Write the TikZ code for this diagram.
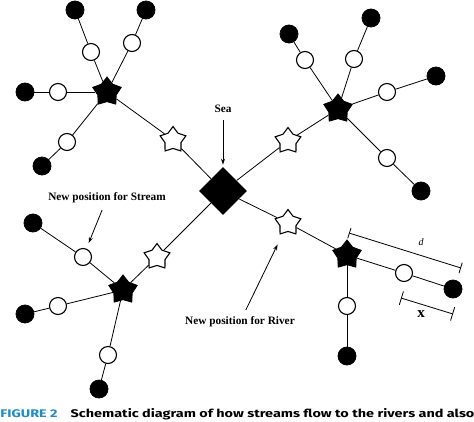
\documentclass[tikz,border=0pt]{standalone}
\usepackage{fontspec}
\usepackage{graphicx}
\setmainfont{Liberation Serif}
\newfontfamily\capfont{Fira Sans}
\usetikzlibrary{shapes.geometric,arrows.meta}
\definecolor{capblue}{RGB}{30,140,200}
\begin{document}
\begin{tikzpicture}[x=1pt,y=-1pt,line width=0.8pt,
	full/.style={circle,fill=black,draw=black,inner sep=0pt,minimum size=18pt},
	empty/.style={circle,fill=white,draw=black,line width=1.1pt,inner sep=0pt,minimum size=17pt},
	bstar/.style={star,star points=5,star point ratio=1.55,fill=black,draw=black,inner sep=0pt,minimum size=30pt},
	wstar/.style={star,star points=5,star point ratio=1.6,fill=white,draw=black,line width=1.1pt,inner sep=0pt,minimum size=27pt},
	lbl/.style={font=\bfseries\fontsize{11.3}{13}\selectfont,inner sep=1pt},
	pointer/.style={-{Stealth[length=6pt,width=4pt]},line width=0.8pt}]
	    \clip (0,0) rectangle (474,421);
	    \fill[white] (0,0) rectangle (474,421);
	    % sea and the four rivers
	    \node[diamond,fill=black,inner sep=0pt,minimum size=48pt] (sea) at (223,191) {};
	    \node[bstar] (b1) at (107,92) {};
	    \node[bstar] (b2) at (338,109) {};
	    \node[bstar] (b3) at (123,290) {};
	    \node[bstar] (b4) at (347,255) {};
	    \node[wstar] (w1) at (173,140) {};
	    \node[wstar] (w2) at (288,141) {};
	    \node[wstar] (w3) at (157,257) {};
	    \node[wstar] (w4) at (288,223) {};
	    \draw (sea) -- (w1) -- (b1);
	    \draw (sea) -- (w2) -- (b2);
	    \draw (sea) -- (w3) -- (b3);
	    \draw (sea) -- (w4) -- (b4);
	    % streams of river 1
	    \node[empty] (o11) at (91,52) {};  \node[full] (f11) at (75,10) {};
	    \node[empty] (o12) at (132,43) {}; \node[full] (f12) at (146,10) {};
	    \node[empty] (o13) at (58,92) {};  \node[full] (f13) at (25,92) {};
	    \node[empty] (o14) at (67,142) {}; \node[full] (f14) at (42,166) {};
	    \draw (b1) -- (o11) -- (f11);
	    \draw (b1) -- (o12) -- (f12);
	    \draw (b1) -- (o13) -- (f13);
	    \draw (b1) -- (o14) -- (f14);
	    % streams of river 2
	    \node[empty] (o21) at (305,60) {};  \node[full] (f21) at (289,34) {};
	    \node[empty] (o22) at (354,59) {};  \node[full] (f22) at (371,18) {};
	    \node[empty] (o23) at (387,92) {};  \node[full] (f23) at (436,76) {};
	    \node[empty] (o24) at (387,158) {}; \node[full] (f24) at (421,191) {};
	    \draw (b2) -- (o21) -- (f21);
	    \draw (b2) -- (o22) -- (f22);
	    \draw (b2) -- (o23) -- (f23);
	    \draw (b2) -- (o24) -- (f24);
	    % streams of river 3
	    \node[empty] (o31) at (83,257) {};  \node[full] (f31) at (33,223) {};
	    \node[empty] (o32) at (58,306) {};  \node[full] (f32) at (25,314) {};
	    \node[empty] (o33) at (108,355) {}; \node[full] (f33) at (99,389) {};
	    \draw (b3) -- (o31) -- (f31);
	    \draw (b3) -- (o32) -- (f32);
	    \draw (b3) -- (o33) -- (f33);
	    % streams of river 4
	    \node[empty] (o41) at (404,273) {}; \node[full] (f41) at (453,289) {};
	    \node[empty] (o42) at (347,306) {}; \node[full] (f42) at (347,356) {};
	    \draw (b4) -- (o41) -- (f41);
	    \draw (b4) -- (o42) -- (f42);
	    % labels
	    \node[lbl] (sealbl) at (223,109) {Sea};
	    \node[lbl] (streamlbl) at (107,198) {New position for Stream};
	    \node[lbl] (riverlbl) at (240,322) {New position for River};
	    \draw[pointer,shorten <=6pt,shorten >=2pt] (sealbl) -- (sea);
	    \draw[pointer,shorten <=6pt,shorten >=6pt] (streamlbl) -- (o31);
	    \draw[pointer,shorten <=6pt,shorten >=12pt] (riverlbl) -- (w4);
	    % distances
	    \coordinate (d1) at (349,233);
	    \coordinate (d2) at (461,268);
	    \coordinate (x1) at (401,298);
	    \coordinate (x2) at (453,314);
	    \draw[{Bar[width=11pt]}-{Bar[width=11pt]}] (d1) -- (d2);
	    \draw[{Bar[width=14pt]}-{Bar[width=14pt]}] (x1) -- (x2);
	    \node[font=\itshape\fontsize{10}{11}\selectfont] (dlbl) at (421,242) {d};
	    \node[font=\bfseries\fontsize{15}{16}\selectfont] (xlbl) at (421,314) {x};
	    % caption
	    \node[anchor=base west,inner sep=0pt,font=\capfont\bfseries] (cap) at (0,417.5)
	        {\resizebox{474pt}{9pt}{\textcolor{capblue}{FIGURE 2}\hspace{9pt}Schematic diagram of how streams flow to the rivers and also}};
\end{tikzpicture}
\end{document}
